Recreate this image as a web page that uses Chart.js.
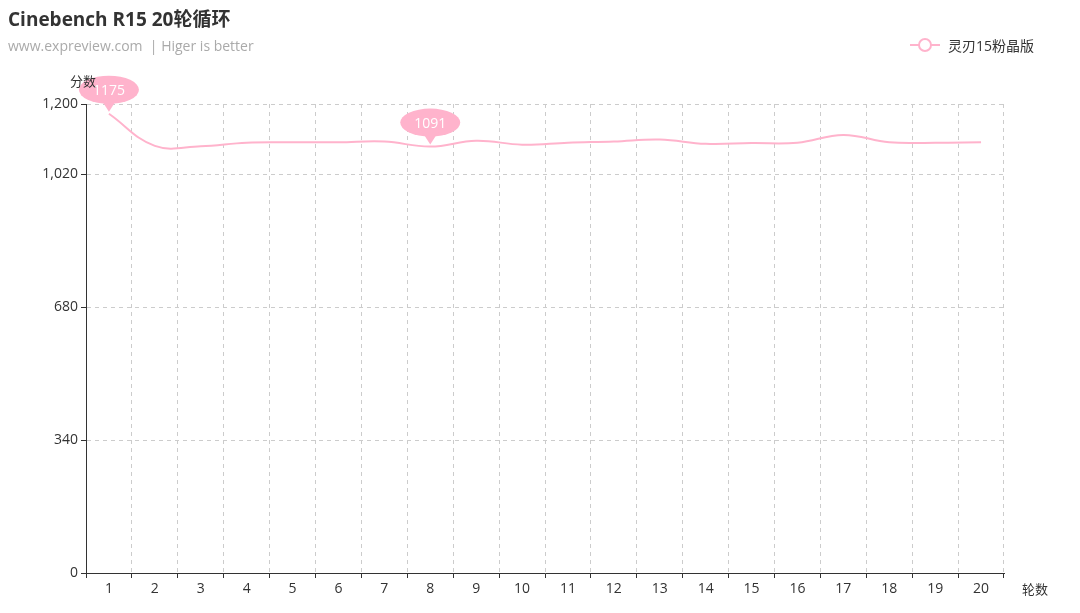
<!DOCTYPE html>
<html>
<head>
<meta charset="utf-8">
<script src="https://cdn.jsdelivr.net/npm/chart.js@4"></script>
<style>
  body { margin: 0; background: #fff; font-family: "Open Sans", "Noto Sans CJK SC", sans-serif; }
  #wrap { position: relative; width: 1080px; height: 613px; }
  .title { position: absolute; left: 8px; top: 4px; font-size: 19px; font-weight: bold; color: #333; }
  .sub { position: absolute; left: 8px; top: 36px; font-size: 14px; color: #aaa; }
  .legend { position: absolute; left: 910px; top: 35px; font-size: 14px; color: #333; display: flex; align-items: center; }
  .legend i { display: inline-block; width: 30px; height: 2px; background: #ffb3cc; position: relative; margin-right: 8px; }
  .legend i::after { content: ""; position: absolute; left: 8px; top: -6px; width: 10px; height: 10px; border: 2px solid #ffb3cc; border-radius: 50%; background: #fff; }
</style>
</head>
<body>
<div id="wrap">
  <div class="title">Cinebench R15 20轮循环</div>
  <div class="sub">www.expreview.com &nbsp;| Higer is better</div>
  <div class="legend"><i></i>灵刃15粉晶版</div>
  <canvas id="c" width="1080" height="613"></canvas>
</div>
<script>
const rounds = ['1','2','3','4','5','6','7','8','9','10','11','12','13','14','15','16','17','18','19','20'];
const scores = [1175, 1093, 1092, 1101, 1102, 1102, 1104, 1091, 1106, 1096, 1101, 1104, 1109, 1098, 1100, 1101, 1121, 1102, 1101, 1102];
const yTicks = [0, 340, 680, 1020, 1200];
const lineColor = '#ffb3cc';

// max/min pins like the original markPoint
const pinPlugin = {
    id: 'pins',
    afterDatasetsDraw(chart) {
        const ctx = chart.ctx;
        const meta = chart.getDatasetMeta(0);
        const maxI = scores.indexOf(Math.max(...scores));
        const minI = scores.indexOf(Math.min(...scores));
        [maxI, minI].forEach(i => {
            const p = meta.data[i];
            const tipY = p.y - 2, cy = p.y - 24;
            ctx.save();
            ctx.fillStyle = lineColor;
            ctx.beginPath();
            ctx.ellipse(p.x, cy, 30, 14, 0, 0, Math.PI * 2);
            ctx.fill();
            ctx.beginPath();
            ctx.moveTo(p.x - 9, cy + 8);
            ctx.lineTo(p.x, tipY);
            ctx.lineTo(p.x + 9, cy + 8);
            ctx.fill();
            ctx.fillStyle = '#fff';
            ctx.font = '14px "Open Sans"';
            ctx.textAlign = 'center';
            ctx.textBaseline = 'middle';
            ctx.fillText(String(scores[i]), p.x, cy + 1);
            ctx.restore();
        });
        ctx.save();
        ctx.fillStyle = '#333';
        ctx.font = '13px "Noto Sans CJK SC"';
        ctx.fillText('分数', 70, 86);
        ctx.fillText('轮数', 1022, 594);
        ctx.restore();
    }
};

new Chart(document.getElementById('c'), {
    type: 'line',
    data: {
        labels: rounds,
        datasets: [{
            data: scores,
            borderColor: lineColor,
            borderWidth: 2,
            pointRadius: 0,
            tension: 0.4,
            fill: false
        }]
    },
    options: {
        responsive: false,
        animation: false,
        layout: { padding: { top: 104, right: 76, left: 0, bottom: 0 } },
        plugins: { legend: { display: false }, tooltip: { enabled: false } },
        scales: {
            x: {
                offset: true,
                afterFit: s => { s.height = 40; },
                grid: { offset: true, color: '#ccc', tickColor: '#333', tickLength: 5, drawOnChartArea: true },
                border: { color: '#333', dash: [4, 4] },
                ticks: { color: '#333', font: { size: 14, family: '"Open Sans"' }, padding: 3, autoSkip: false, maxRotation: 0 }
            },
            y: {
                min: 0, max: 1200,
                afterFit: s => { s.width = 86; },
                afterBuildTicks: s => { s.ticks = yTicks.map(v => ({ value: v })); },
                grid: { color: '#ccc', tickColor: '#333', tickLength: 5 },
                border: { color: '#333', dash: [4, 4] },
                ticks: { color: '#333', font: { size: 14, family: '"Open Sans"' }, callback: v => v.toLocaleString('en-US') }
            }
        }
    },
    plugins: [pinPlugin]
});
</script>
</body>
</html>
